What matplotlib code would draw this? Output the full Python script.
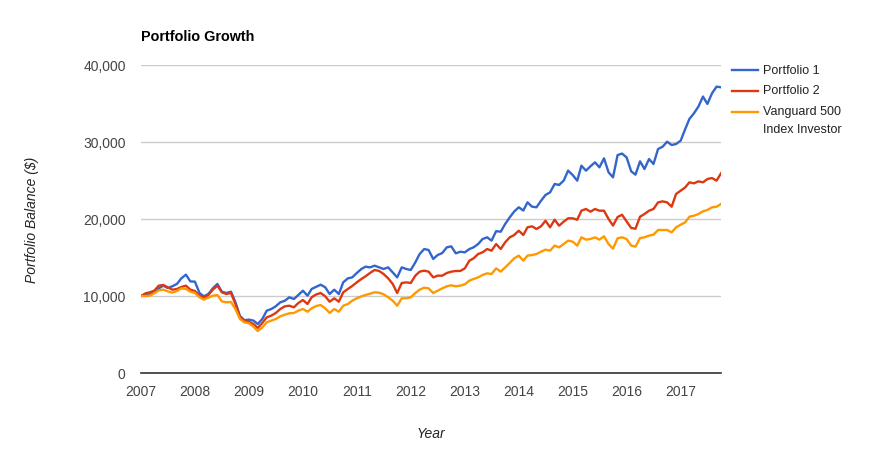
import numpy as np
import pandas as pd
import matplotlib
matplotlib.use("Agg")
import matplotlib.pyplot as plt
from matplotlib.lines import Line2D

plt.rcParams['font.family'] = ['Liberation Sans', 'DejaVu Sans']

# --- DATA (balance in $1000, monthly from Jan 2007) ---
dates = pd.date_range("2007-01-01", periods=130, freq="MS")

portfolio_1 = [
    10.0, 10.22, 10.18, 10.48, 10.99, 11.34, 11.04, 11.26, 11.56, 12.29,
    12.77, 11.9, 11.86, 10.39, 9.96, 10.26, 10.99, 11.56, 10.56, 10.39,
    10.56, 9.2, 7.4, 6.85, 6.93, 6.8, 6.36, 7.01, 8.09, 8.31,
    8.66, 9.18, 9.39, 9.83, 9.61, 10.13, 10.69, 10.04, 10.91, 11.2,
    11.47, 11.13, 10.26, 10.82, 10.26, 11.78, 12.29, 12.42, 12.99, 13.51,
    13.81, 13.72, 13.94, 13.72, 13.51, 13.72, 13.07, 12.42, 13.72, 13.51,
    13.38, 14.37, 15.45, 16.1, 15.97, 14.81, 15.32, 15.58, 16.32, 16.45,
    15.54, 15.75, 15.67, 16.1, 16.32, 16.75, 17.4, 17.62, 17.19, 18.42,
    18.35, 19.35, 20.22, 20.97, 21.52, 21.1, 22.16, 21.6, 21.52, 22.38,
    23.12, 23.46, 24.55, 24.42, 24.98, 26.28, 25.71, 24.98, 26.93, 26.28,
    26.84, 27.36, 26.71, 27.88, 26.06, 25.41, 28.3, 28.5, 28.0, 26.19,
    25.76, 27.49, 26.49, 27.79, 27.14, 29.09, 29.39, 30.04, 29.61, 29.74,
    30.17, 31.69, 32.99, 33.73, 34.6, 35.9, 34.94, 36.32, 37.19, 37.1,
]

portfolio_2 = [
    10.0, 10.35, 10.48, 10.69, 11.34, 11.43, 11.13, 10.82, 10.91, 11.17,
    11.34, 10.82, 10.65, 10.04, 9.78, 10.13, 10.82, 11.34, 10.48, 10.26,
    10.39, 8.96, 7.2, 6.75, 6.65, 6.35, 5.85, 6.49, 7.23, 7.45,
    7.79, 8.31, 8.66, 8.74, 8.53, 9.09, 9.48, 8.96, 9.83, 10.2,
    10.39, 9.96, 9.26, 9.7, 9.26, 10.48, 10.91, 11.3, 11.78, 12.21,
    12.56, 13.0, 13.38, 13.25, 12.86, 12.3, 11.56, 10.39, 11.69, 11.77,
    11.69, 12.64, 13.16, 13.29, 13.16, 12.42, 12.64, 12.64, 12.99, 13.16,
    13.25, 13.25, 13.59, 14.59, 14.89, 15.45, 15.67, 16.1, 15.89, 16.75,
    16.1, 16.97, 17.62, 17.92, 18.48, 17.92, 18.92, 19.05, 18.7, 19.05,
    19.78, 18.92, 19.91, 19.13, 19.65, 20.09, 20.09, 19.91, 21.08, 21.3,
    20.95, 21.3, 21.08, 21.08, 20.0, 19.15, 20.25, 20.55, 19.7, 18.83,
    18.74, 20.3, 20.65, 21.08, 21.3, 22.16, 22.29, 22.16, 21.6, 23.25,
    23.68, 24.11, 24.76, 24.63, 24.89, 24.76, 25.19, 25.32, 24.98, 25.93,
]

vanguard_500 = [
    10.0, 10.0, 10.04, 10.35, 10.74, 10.82, 10.6, 10.43, 10.65, 10.99,
    10.91, 10.56, 10.39, 9.83, 9.53, 9.78, 10.04, 10.13, 9.31, 9.18,
    9.22, 8.31, 7.01, 6.58, 6.45, 6.0, 5.45, 5.93, 6.58, 6.8,
    7.01, 7.36, 7.57, 7.75, 7.79, 8.1, 8.31, 7.96, 8.4, 8.7,
    8.83, 8.4, 7.79, 8.31, 7.96, 8.74, 8.96, 9.39, 9.7, 9.96,
    10.13, 10.3, 10.48, 10.43, 10.22, 9.83, 9.39, 8.74, 9.7, 9.7,
    9.83, 10.39, 10.82, 11.08, 10.99, 10.39, 10.69, 10.99, 11.26, 11.39,
    11.26, 11.34, 11.52, 12.0, 12.21, 12.42, 12.73, 12.94, 12.86, 13.59,
    13.16, 13.72, 14.29, 14.89, 15.24, 14.59, 15.24, 15.32, 15.45, 15.76,
    16.02, 15.89, 16.54, 16.32, 16.75, 17.19, 17.06, 16.54, 17.62, 17.32,
    17.4, 17.62, 17.32, 17.75, 16.75, 16.15, 17.5, 17.62, 17.4, 16.54,
    16.41, 17.53, 17.62, 17.84, 17.97, 18.57, 18.57, 18.57, 18.27, 18.92,
    19.26, 19.57, 20.3, 20.43, 20.65, 21.0, 21.17, 21.52, 21.6, 21.95,
]

series_names = ["Portfolio 1", "Portfolio 2", "Vanguard 500\nIndex Investor"]
colors = ["#3366cc", "#dc3912", "#ff9900"]
years = list(range(2007, 2018))
y_ticks = [0, 10000, 20000, 30000, 40000]

# --- PLOT ---
W, H = 871, 452
fig = plt.figure(figsize=(W / 100, H / 100), dpi=100)
ax = fig.add_axes([141 / W, 1 - 374 / H, 580 / W, 308 / H])

for vals, col in zip([portfolio_1, portfolio_2, vanguard_500], colors):
    ax.plot(dates, np.array(vals) * 1000, color=col, linewidth=1.7,
            solid_joinstyle='round', zorder=3)

ax.set_xlim(dates[0], dates[-1])
ax.set_ylim(0, 40000)
ax.set_yticks(y_ticks)
ax.set_yticklabels([f"{v:,}" for v in y_ticks])
ax.set_xticks(pd.to_datetime([f"{y}-01-01" for y in years]))
ax.set_xticklabels([str(y) for y in years])

ax.grid(axis='y', color='#cccccc', linewidth=1)
ax.set_axisbelow(True)
for s in ['top', 'right', 'left']:
    ax.spines[s].set_visible(False)
ax.spines['bottom'].set_color('#333333')
ax.spines['bottom'].set_linewidth(1.2)
ax.spines['bottom'].set_zorder(4)
ax.tick_params(axis='both', length=0, labelsize=10, colors='#444444')
ax.tick_params(axis='y', pad=11)
ax.tick_params(axis='x', pad=8)

fig.text(141 / W, 1 - 37 / H, "Portfolio Growth", fontsize=10.4,
         fontweight='bold', ha='left', va='center', color='black')
fig.text(32 / W, 1 - 220 / H, "Portfolio Balance ($)", fontsize=10,
         style='italic', rotation=90, ha='center', va='center', color='#222222')
fig.text(431 / W, 1 - 434 / H, "Year", fontsize=10, style='italic',
         ha='center', va='center', color='#222222')

# legend on the right
leg_y = [71, 92, 113]
for name, col, yy in zip(series_names, colors, leg_y):
    fig.add_artist(Line2D([732 / W, 758 / W], [1 - yy / H, 1 - yy / H],
                          color=col, linewidth=1.7))
    fig.text(763 / W, 1 - (yy - 6.5) / H, name, fontsize=9, ha='left',
             va='top', color='#222222', linespacing=1.6)

fig.savefig("out.png", dpi=100)
